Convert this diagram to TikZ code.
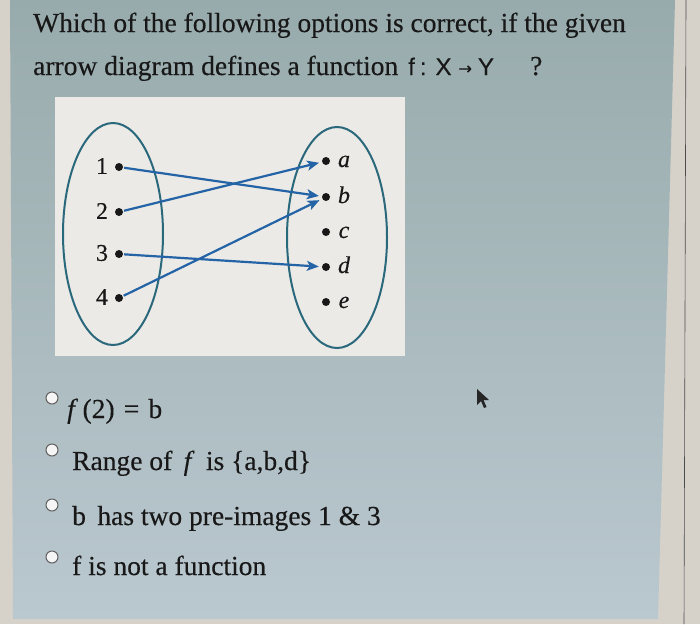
\documentclass[tikz,border=0pt]{standalone}
\usepackage{fontspec}
\setmainfont{Liberation Serif}[FakeBold=0.35]
\newfontfamily\sansf{Liberation Sans}[FakeBold=0.35]
\newfontfamily\arrowf{DejaVu Sans}[FakeBold=0.6]
\usetikzlibrary{arrows.meta}
\definecolor{outerbg}{RGB}{214,210,202}
\definecolor{paneltop}{RGB}{152,171,172}
\definecolor{panelbot}{RGB}{186,200,207}
\definecolor{boxbg}{RGB}{236,234,230}
\definecolor{ellc}{RGB}{42,104,124}
\definecolor{arrc}{RGB}{36,100,166}
\definecolor{txt}{RGB}{24,24,24}
\tikzset{
  qtext/.style={anchor=base west,inner sep=0pt,text=txt,font=\fontsize{27.5}{30}\selectfont},
  dlabel/.style={inner sep=0pt,text=txt,font=\fontsize{24}{26}\selectfont},
  ilabel/.style={inner sep=0pt,text=txt,font=\itshape\fontsize{24}{26}\selectfont},
  dot/.style={circle,fill=txt,inner sep=0pt,minimum size=8pt},
  setell/.style={draw=ellc,line width=2pt},
  maparrow/.style={draw=arrc,line width=2.2pt,-{Stealth[length=12pt,width=10pt,inset=3pt]},shorten >=3pt,shorten <=1pt},
  radio/.style={circle,draw=gray!75!black,fill=white!92!gray,line width=1pt,inner sep=0pt,minimum size=12pt}
}
\begin{document}
\begin{tikzpicture}[x=1pt,y=-1pt]
\useasboundingbox (0,0) rectangle (700,624);
% backgrounds
\fill[outerbg] (0,0) rectangle (700,624);
\shade[top color=paneltop,bottom color=panelbot] (10,0) -- (675,0) -- (658,619) -- (13,619) -- cycle;
\draw[gray!60!black,line width=0.6pt] (686,0) -- (684,624);
% question
\node[qtext] (q1) at (33,32) {Which of the following options is correct, if the given};
\node[qtext] (q2) at (33,75) {arrow diagram defines a function};
\node[qtext,font=\sansf\fontsize{24}{28}\selectfont] (q3) at (408,75) {f\hspace{5pt}:\hspace{9pt}X\hspace{7pt}{\arrowf\fontsize{16}{18}\selectfont\raisebox{1pt}{→}}\hspace{6pt}Y};
\node[qtext] (q4) at (530,75) {?};
% diagram box
\fill[boxbg] (55,97) rectangle (405,356);
\draw[setell] (113,234) ellipse [x radius=50,y radius=111];
\draw[setell] (337,237.5) ellipse [x radius=50,y radius=110.5];
% domain dots
\node[dot] (l1) at (119,167) {};
\node[dot] (l2) at (119,212) {};
\node[dot] (l3) at (119,254) {};
\node[dot] (l4) at (119,298) {};
\node[dlabel] (t1) at (102,166) {1};
\node[dlabel] (t2) at (102,211) {2};
\node[dlabel] (t3) at (102,253) {3};
\node[dlabel] (t4) at (102,297) {4};
% codomain dots
\node[dot] (ra) at (326,161) {};
\node[dot] (rb) at (326,197) {};
\node[dot] (rc) at (326,232) {};
\node[dot] (rd) at (326,267) {};
\node[dot] (re) at (326,302) {};
\node[ilabel,anchor=base] (ta) at (344,167) {a};
\node[ilabel,anchor=base] (tb) at (344,203) {b};
\node[ilabel,anchor=base] (tc) at (344,238) {c};
\node[ilabel,anchor=base] (td) at (344,273) {d};
\node[ilabel,anchor=base] (te) at (344,308) {e};
% arrows
\draw[maparrow] (l1) -- (rb);
\draw[maparrow] (l2) -- (ra);
\draw[maparrow] (l3) -- (rd);
\draw[maparrow] (l4) -- (rb);
% options
\node[radio] (o1) at (52,398) {};
\node[radio] (o2) at (52,450) {};
\node[radio] (o3) at (52,505) {};
\node[radio] (o4) at (52,557) {};
\node[qtext] (a1) at (67,418) {\textit{f}\,(2)\,\,=\,\,b};
\node[qtext] (a2) at (72,470) {Range of\, \textit{f}\, is \{a,b,d\}};
\node[qtext] (a3) at (72,525) {b\, has two pre-images 1 \& 3};
\node[qtext] (a4) at (72,575) {f is not a function};
% mouse pointer
\fill[black!85] (477,389) -- (477,405) -- (481,401) -- (484,408) -- (486.5,407) -- (483.5,400) -- (489,400) -- cycle;
\end{tikzpicture}
\end{document}
